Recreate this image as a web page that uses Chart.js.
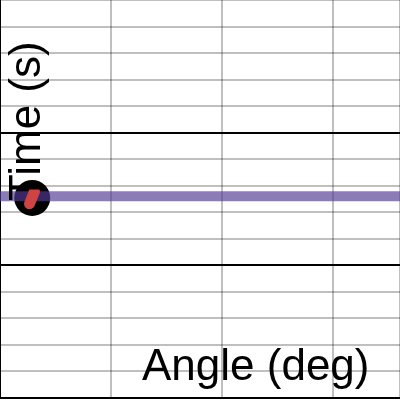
<!DOCTYPE html>
<html>
<head>
<meta charset="utf-8">
<script src="https://cdn.jsdelivr.net/npm/chart.js@4/dist/chart.umd.min.js"></script>
<style>
  html, body { margin: 0; padding: 0; background: #fff; }
  #wrap { width: 400px; height: 400px; }
</style>
</head>
<body>
<div id="wrap"><canvas id="chart"></canvas></div>
<script>
// axis ranges and labels
const xRange = [0, 3.6];
const yRange = [0, 15];
const xTitle = "Angle (deg)";
const yTitle = "Time (s)";

// series
const levelX = [0, 3.6];
const levelY = [7.6, 7.6];
const markerX = [0.29];
const markerY = [7.54];
const traceX = [0.31, 0.266];
const traceY = [7.78, 7.32];

const toPoints = (xs, ys) => xs.map((x, i) => ({ x: x, y: ys[i] }));

// titles sit inside the plot, so draw them ourselves
const insideTitles = {
  id: "insideTitles",
  afterDraw(chart) {
    const ctx = chart.ctx;
    ctx.save();
    ctx.fillStyle = "#000";
    ctx.font = "44px 'Liberation Sans', Arial, sans-serif";
    ctx.textBaseline = "alphabetic";
    ctx.textAlign = "left";
    ctx.fillText(xTitle, 142, 380);

    ctx.translate(40, 201);
    ctx.rotate(-Math.PI / 2);
    ctx.fillText(yTitle, 0, 0);
    ctx.restore();
  },
};

const chart = new Chart(document.getElementById("chart"), {
  type: "scatter",
  data: {
    datasets: [
      {
        label: "marker",
        data: toPoints(markerX, markerY),
        pointRadius: 18,
        pointBackgroundColor: "#000",
        pointBorderWidth: 0,
        showLine: false,
        order: 3,
      },
      {
        label: "level",
        data: toPoints(levelX, levelY),
        showLine: true,
        borderColor: "rgba(82, 60, 150, 0.67)",
        borderWidth: 10,
        pointRadius: 0,
        order: 2,
      },
      {
        label: "trace",
        data: toPoints(traceX, traceY),
        showLine: true,
        borderColor: "#cf4343",
        borderWidth: 11,
        borderCapStyle: "round",
        pointRadius: 0,
        order: 1,
      },
    ],
  },
  options: {
    responsive: true,
    maintainAspectRatio: false,
    animation: false,
    layout: { autoPadding: false, padding: { top: 0, right: 0, bottom: 2, left: 0 } },
    plugins: {
      legend: { display: false },
      tooltip: { enabled: false },
    },
    scales: {
      x: {
        type: "linear",
        min: xRange[0],
        max: xRange[1],
        ticks: { display: false, stepSize: 1 },
        grid: {
          drawTicks: false,
          color: "rgba(0, 0, 0, 0.25)",
          lineWidth: 2,
        },
        border: { display: true, color: "#000", width: 2 },
      },
      y: {
        type: "linear",
        min: yRange[0],
        max: yRange[1],
        ticks: { display: false, stepSize: 1 },
        grid: {
          drawTicks: false,
          color: (c) =>
            c.tick && (c.tick.value === 5 || c.tick.value === 10)
              ? "#000"
              : "rgba(0, 0, 0, 0.25)",
          lineWidth: 2,
        },
        border: { display: true, color: "#000", width: 2 },
      },
    },
  },
  plugins: [insideTitles],
});
</script>
</body>
</html>
